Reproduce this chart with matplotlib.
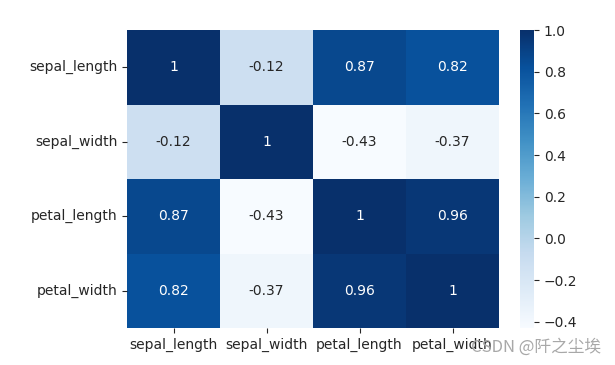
import matplotlib
matplotlib.use("Agg")
import matplotlib.pyplot as plt
import seaborn as sns
import numpy as np
import pandas as pd

labels = ["sepal_length", "sepal_width", "petal_length", "petal_width"]
row_sepal_length = [1.0, -0.12, 0.87, 0.82]
row_sepal_width = [-0.12, 1.0, -0.43, -0.37]
row_petal_length = [0.87, -0.43, 1.0, 0.96]
row_petal_width = [0.82, -0.37, 0.96, 1.0]

df = pd.DataFrame([row_sepal_length, row_sepal_width, row_petal_length, row_petal_width],
                  index=labels, columns=labels)

fig = plt.figure(figsize=(6.15, 3.65), dpi=100)
ax = fig.add_axes([0.2065, 0.1014, 0.605, 0.816])
cax = fig.add_axes([0.8455, 0.1014, 0.0228, 0.816])
sns.heatmap(df, annot=True, cmap="Blues", ax=ax, cbar_ax=cax,
            annot_kws={"fontsize": 10})
ax.tick_params(labelsize=10, colors="#262626")
cax.tick_params(labelsize=10, colors="#262626")
plt.setp(ax.get_yticklabels(), rotation=0)
plt.setp(ax.get_xticklabels(), rotation=0)
fig.text(0.977, 0.05, "CSDN @阡之尘埃", ha="right", va="center", fontsize=12,
         color="#a8a8a8", family=["Noto Sans CJK SC", "DejaVu Sans"])
fig.savefig("out.png", dpi=100)
